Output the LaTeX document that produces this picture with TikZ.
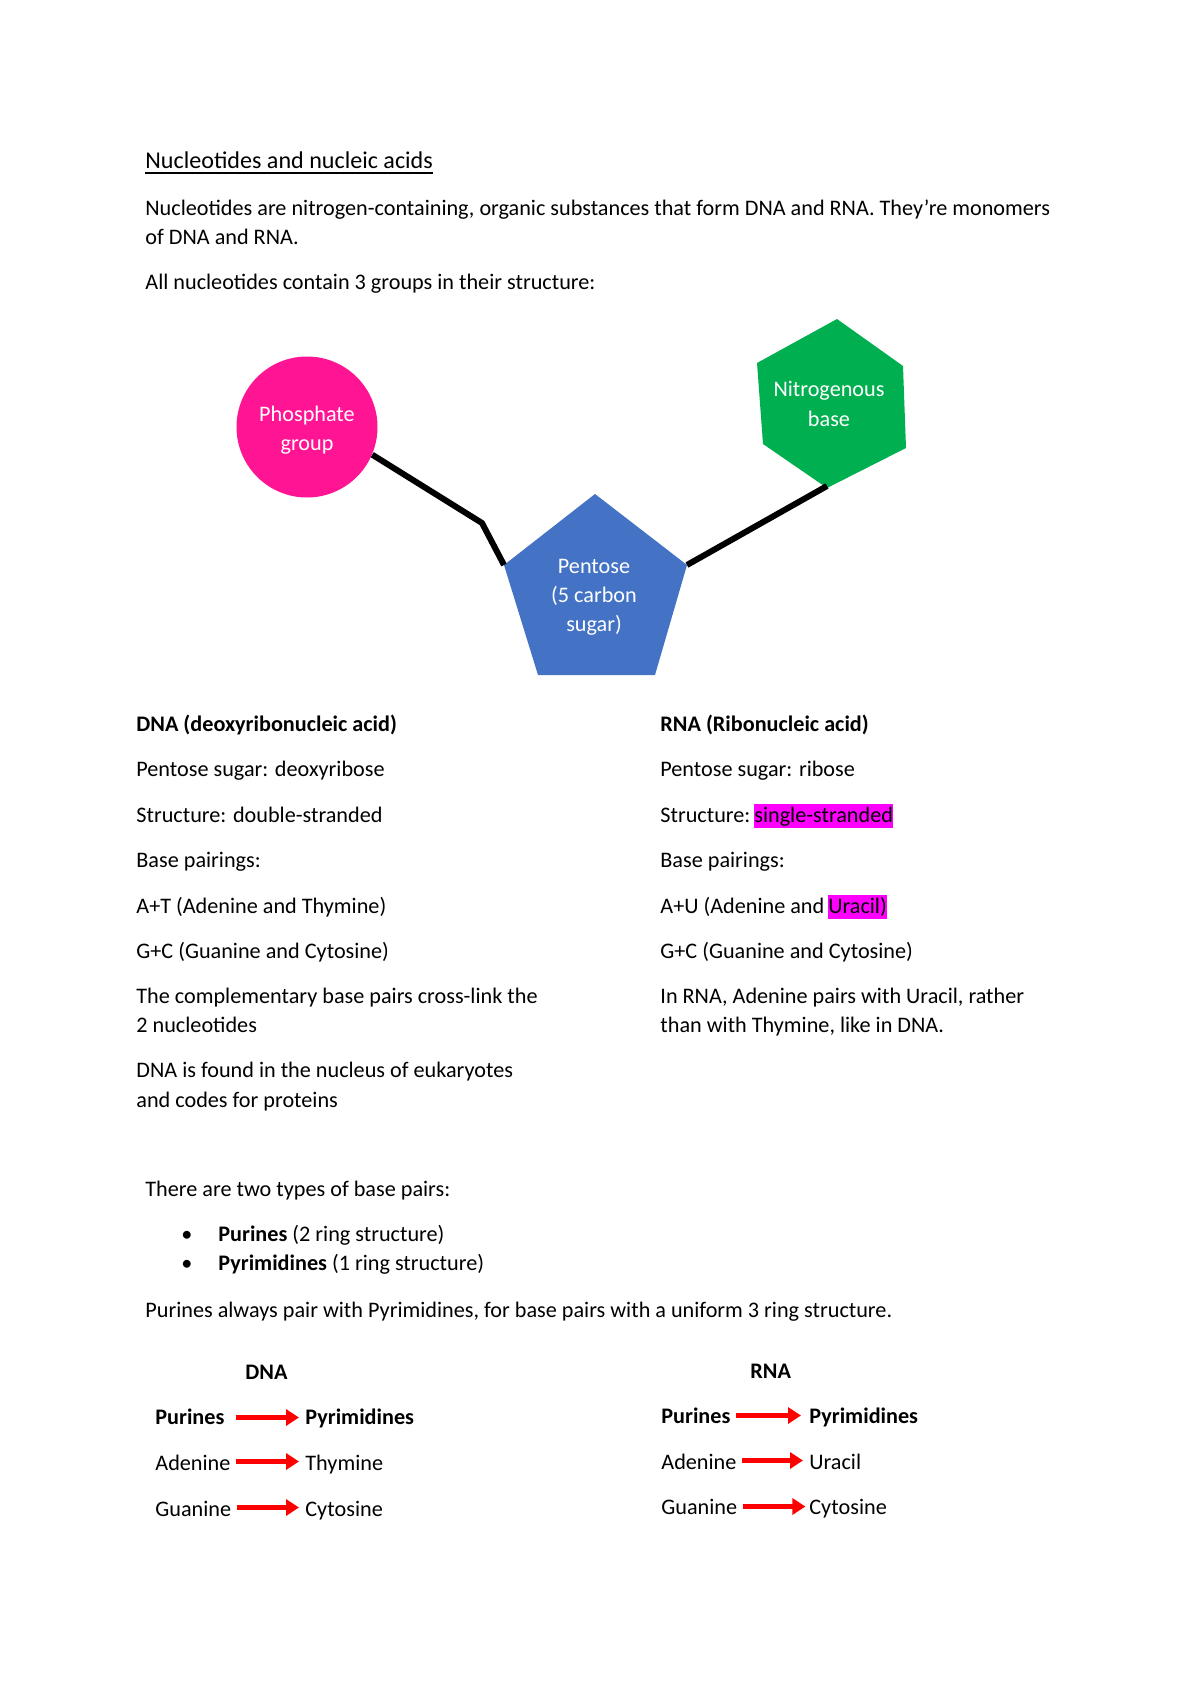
\documentclass[tikz,border=0pt]{standalone}
\usepackage{fontspec}
\setmainfont{Carlito}
\usetikzlibrary{arrows.meta, positioning}

\definecolor{phosphatepink}{HTML}{FF1493}
\definecolor{pentoseblue}{HTML}{4472C4}
\definecolor{basegreen}{HTML}{00B050}
\definecolor{marker}{HTML}{FF00FF}

\begin{document}
\begin{tikzpicture}[
    x=0.5pt, y=-0.5pt,
    line/.style={anchor=base west, inner sep=0pt, font=\fontsize{11.1}{14.6}\selectfont},
    titleline/.style={anchor=base west, inner sep=0pt, font=\fontsize{12.05}{16}\selectfont},
    headline/.style={line, font=\fontsize{11.1}{14.6}\selectfont\bfseries},
    marked/.style={line, fill=marker, xshift=1.6pt, text height=9pt, text depth=3pt},
    shapelabel/.style={text=white, align=center, inner sep=0pt, font=\fontsize{11.1}{14.6}\selectfont},
    bond/.style={line width=3pt, line join=round},
    pairlabel/.style={line, text height=8pt, text depth=2.5pt},
    pairhead/.style={headline, text height=8pt, text depth=2.5pt},
    pairarrow/.style={red, line width=2.8pt, -{Triangle[length=6.5pt, width=8pt]}, shorten <=2.5pt, shorten >=3pt}
]
\useasboundingbox[fill=white] (0,0) rectangle (1200,1696);

% heading and intro
\node[titleline] (title) at (145,169) {Nucleotides and nucleic acids};
\draw[line width=0.9pt] ([yshift=-2.2pt]title.base west) -- ([yshift=-2.2pt]title.base east);
\node[line] (introa) at (145,216) {Nucleotides are nitrogen-containing, organic substances that form DNA and RNA. They’re monomers};
\node[line] (introb) at (145,244) {of DNA and RNA.};
\node[line] (introc) at (145,289) {All nucleotides contain 3 groups in their structure:};

% the three groups
\node[circle, fill=phosphatepink, minimum size=70.5pt, inner sep=0pt] (phosphate) at (307,427) {};
\node[shapelabel] (phosphatetext) at (307,430) {Phosphate\\group};

\coordinate (pentosetop) at (595,494);
\coordinate (pentoseright) at (687,565);
\coordinate (pentosebr) at (655,675);
\coordinate (pentosebl) at (538,675);
\coordinate (pentoseleft) at (504,565);
\fill[pentoseblue] (pentosetop) -- (pentoseright) -- (pentosebr) -- (pentosebl) -- (pentoseleft) -- cycle;
\node[shapelabel] (pentosetext) at (594,597) {Pentose\\(5 carbon\\sugar)};

\coordinate (basetop) at (837,319);
\coordinate (baseur) at (903,366);
\coordinate (baselr) at (906,448);
\coordinate (basebottom) at (827,488);
\coordinate (basell) at (763,444);
\coordinate (baseul) at (757,363);
\fill[basegreen] (basetop) -- (baseur) -- (baselr) -- (basebottom) -- (basell) -- (baseul) -- cycle;
\node[shapelabel] (basetext) at (829,404) {Nitrogenous\\base};

\coordinate (bend) at (482,523);
\coordinate (baselink) at (827,486);
\draw[bond] (phosphate.-23) -- (bend) -- (pentoseleft);
\draw[bond] (pentoseright) -- (baselink);

% DNA column
\node[headline] (dnahead) at (136,731) {DNA (deoxyribonucleic acid)};
\node[line] (dnasugar) at (136,776) {Pentose sugar: deoxyribose};
\node[line] (dnastruct) at (136,822) {Structure: double-stranded};
\node[line] (dnapair) at (136,867) {Base pairings:};
\node[line] (dnaat) at (136,913) {A+T (Adenine and Thymine)};
\node[line] (dnagc) at (136,958) {G+C (Guanine and Cytosine)};
\node[line] (dnalinka) at (136,1003) {The complementary base pairs cross-link the};
\node[line] (dnalinkb) at (136,1032) {2 nucleotides};
\node[line] (dnanuca) at (136,1077) {DNA is found in the nucleus of eukaryotes};
\node[line] (dnanucb) at (136,1107) {and codes for proteins};

% RNA column
\node[headline] (rnahead) at (660,731) {RNA (Ribonucleic acid)};
\node[line] (rnasugar) at (660,776) {Pentose sugar: ribose};
\node[line] (rnastruct) at (660,822) {Structure:};
\node[marked] (rnasingle) at (rnastruct.base east) {single-stranded};
\node[line] (rnapair) at (660,867) {Base pairings:};
\node[line] (rnaau) at (660,913) {A+U (Adenine and};
\node[marked] (rnauracil) at (rnaau.base east) {Uracil)};
\node[line] (rnagc) at (660,958) {G+C (Guanine and Cytosine)};
\node[line] (rnanotea) at (660,1003) {In RNA, Adenine pairs with Uracil, rather};
\node[line] (rnanoteb) at (660,1032) {than with Thymine, like in DNA.};

% base pairs
\node[line] (pairsintro) at (145,1196) {There are two types of base pairs:};
\node[line] (bulleta) at (181,1241) {\textbullet};
\node[line] (purines) at (218,1241) {\textbf{Purines} (2 ring structure)};
\node[line] (bulletb) at (181,1270) {\textbullet};
\node[line] (pyrimidines) at (218,1270) {\textbf{Pyrimidines} (1 ring structure)};
\node[line] (pairsnote) at (145,1317) {Purines always pair with Pyrimidines, for base pairs with a uniform 3 ring structure.};

% pairing tables
\node[headline] (dnatable) at (245,1379) {DNA};
\node[pairhead] (dnapur) at (155,1424) {Purines};
\node[pairhead] (dnapyr) at (305,1424) {Pyrimidines};
\node[pairlabel] (dnaade) at (155,1470) {Adenine};
\node[pairlabel] (dnathy) at (305,1470) {Thymine};
\node[pairlabel] (dnagua) at (155,1516) {Guanine};
\node[pairlabel] (dnacyt) at (305,1516) {Cytosine};
\draw[pairarrow, shorten <=5.5pt] ([yshift=0.5pt]dnapur.east) -- ([yshift=0.5pt]dnapyr.west);
\draw[pairarrow] ([yshift=1.5pt]dnaade.east) -- ([yshift=1.5pt]dnathy.west);
\draw[pairarrow] ([yshift=1.5pt]dnagua.east) -- ([yshift=1.5pt]dnacyt.west);

\node[headline] (rnatable) at (750,1378) {RNA};
\node[pairhead] (rnapur) at (661,1423) {Purines};
\node[pairhead] (rnapyr) at (809,1423) {Pyrimidines};
\node[pairlabel] (rnaade) at (661,1469) {Adenine};
\node[pairlabel] (rnaura) at (809,1469) {Uracil};
\node[pairlabel] (rnagua) at (661,1514) {Guanine};
\node[pairlabel] (rnacyt) at (809,1514) {Cytosine};
\draw[pairarrow, shorten >=4pt] ([yshift=1pt]rnapur.east) -- ([yshift=1pt]rnapyr.west);
\draw[pairarrow] ([yshift=1.5pt]rnaade.east) -- ([yshift=1.5pt]rnaura.west);
\draw[pairarrow, shorten >=1.8pt] ([yshift=1pt]rnagua.east) -- ([yshift=1pt]rnacyt.west);

\end{tikzpicture}
\end{document}
